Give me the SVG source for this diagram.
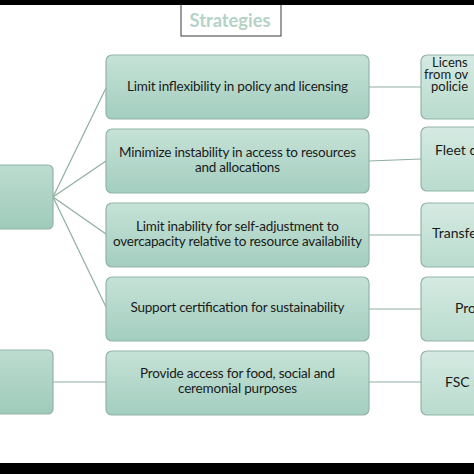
<svg xmlns="http://www.w3.org/2000/svg" width="474" height="474" viewBox="0 0 474 474">
<defs>
<linearGradient id="gMid" x1="0" y1="0" x2="0" y2="1">
<stop offset="0" stop-color="#c6e2d7"/>
<stop offset="1" stop-color="#a3cebf"/>
</linearGradient>
<linearGradient id="gRight" x1="0" y1="0" x2="0" y2="1">
<stop offset="0" stop-color="#d5eae2"/>
<stop offset="1" stop-color="#b9dbce"/>
</linearGradient>
<linearGradient id="gLeft" x1="0" y1="0" x2="0" y2="1">
<stop offset="0" stop-color="#bcdccf"/>
<stop offset="1" stop-color="#9fcbbb"/>
</linearGradient>
</defs>
<style>
.box{stroke:#93b3a7;stroke-width:1.2}
.mid{fill:url(#gMid)}
.right{fill:url(#gRight)}
.left{fill:url(#gLeft)}
.t{font-family:Lato,"Liberation Sans",sans-serif;font-size:13.5px;fill:#1a1a1a;text-anchor:middle}
.tr{font-family:Lato,"Liberation Sans",sans-serif;font-size:14px;fill:#1a1a1a}
.ts{font-family:Lato,"Liberation Sans",sans-serif;font-size:13px;fill:#1a1a1a}
.c{stroke:#8eaea2;stroke-width:1.2;fill:none}
.title{font-family:Lato,"Liberation Sans",sans-serif;font-size:18px;font-weight:bold;fill:#b5d2c6;text-anchor:middle}
</style>
<rect x="0" y="0" width="474" height="474" fill="#ffffff"/>

<g id="title">
<rect x="181" y="-2" width="100" height="38" fill="#ffffff" stroke="#3a3a3a" stroke-width="1"/>
<text class="title" x="230" y="27" textLength="81" lengthAdjust="spacingAndGlyphs">Strategies</text>
</g>

<g id="connectors">
<line class="c" x1="53" y1="197" x2="106" y2="88"/>
<line class="c" x1="53" y1="197" x2="106" y2="161"/>
<line class="c" x1="53" y1="197" x2="106" y2="234"/>
<line class="c" x1="53" y1="197" x2="106" y2="307"/>
<line class="c" x1="53" y1="382" x2="106" y2="382"/>
<line class="c" x1="369" y1="87" x2="421" y2="87"/>
<line class="c" x1="369" y1="161" x2="421" y2="159"/>
<line class="c" x1="369" y1="235" x2="421" y2="235"/>
<line class="c" x1="369" y1="309" x2="421" y2="309"/>
<line class="c" x1="369" y1="382" x2="421" y2="382"/>
</g>

<g id="left1"><rect class="box left" x="-10" y="165" width="63" height="64" rx="5"/></g>
<g id="left2"><rect class="box left" x="-10" y="350" width="63" height="64" rx="5"/></g>

<g id="s1">
<rect class="box mid" x="106" y="55" width="263" height="64" rx="6"/>
<text class="t" x="237.5" y="91" textLength="221">Limit inflexibility in policy and licensing</text>
</g>
<g id="s2">
<rect class="box mid" x="106" y="129" width="263" height="64" rx="6"/>
<text class="t" x="237.5" y="157" textLength="237">Minimize instability in access to resources</text>
<text class="t" x="237.5" y="172" textLength="85">and allocations</text>
</g>
<g id="s3">
<rect class="box mid" x="106" y="203" width="263" height="64" rx="6"/>
<text class="t" x="237.5" y="231" textLength="203">Limit inability for self-adjustment to</text>
<text class="t" x="237.5" y="246" textLength="249">overcapacity relative to resource availability</text>
</g>
<g id="s4">
<rect class="box mid" x="106" y="277" width="263" height="64" rx="6"/>
<text class="t" x="237.5" y="312" textLength="214">Support certification for sustainability</text>
</g>
<g id="s5">
<rect class="box mid" x="106" y="351" width="263" height="64" rx="6"/>
<text class="t" x="237.5" y="378" textLength="195">Provide access for food, social and</text>
<text class="t" x="237.5" y="393" textLength="119">ceremonial purposes</text>
</g>

<g id="r1">
<rect class="box right" x="421" y="55" width="80" height="64" rx="6"/>
<text class="ts" x="432" y="67">Licens</text>
<text class="ts" x="424" y="79">from ov</text>
<text class="ts" x="431" y="91">policie</text>
</g>
<g id="r2">
<rect class="box right" x="421" y="127" width="80" height="64" rx="6"/>
<text class="tr" x="435" y="155">Fleet q</text>
</g>
<g id="r3">
<rect class="box right" x="421" y="203" width="80" height="64" rx="6"/>
<text class="tr" x="432" y="238">Transfe</text>
</g>
<g id="r4">
<rect class="box right" x="421" y="277" width="80" height="64" rx="6"/>
<text class="tr" x="455" y="313">Pro</text>
</g>
<g id="r5">
<rect class="box right" x="421" y="351" width="80" height="64" rx="6"/>
<text class="tr" x="445" y="387">FSC r</text>
</g>

<rect x="0" y="0" width="474" height="5" fill="#000000"/>
<rect x="0" y="463" width="474" height="11" fill="#000000"/>
</svg>
